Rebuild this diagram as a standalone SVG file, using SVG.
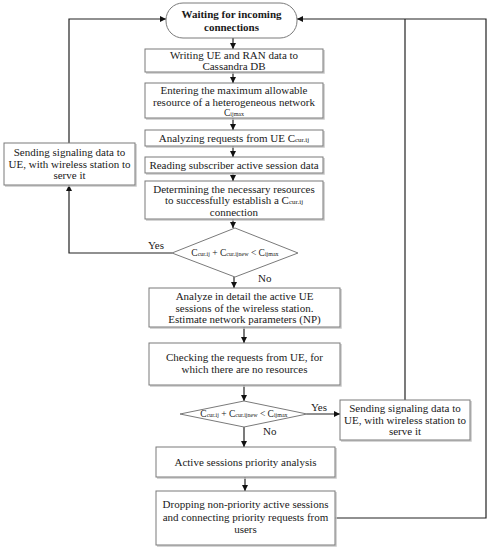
<svg xmlns="http://www.w3.org/2000/svg" width="491" height="550" viewBox="0 0 491 550">
<style>
  .box { fill: #fff; stroke: #7a7a7a; stroke-width: 1; }
  .sh { fill: none; stroke: #c8c8c8; stroke-width: 1.5; }
  .t { font-family: "Liberation Serif", "Times New Roman", serif; font-size: 11px; fill: #1a1a1a; text-anchor: middle; }
  .b { font-weight: bold; }
  .s { font-size: 7px; }
  .d { font-size: 9.5px; }
  .ds { font-size: 6px; }
  .ln { fill: none; stroke: #222; stroke-width: 1.2; }
  .lab { font-family: "Liberation Serif", "Times New Roman", serif; font-size: 11px; fill: #1a1a1a; }
</style>
<defs>
  <marker id="ar" viewBox="0 0 10 10" refX="10" refY="5" markerWidth="6" markerHeight="6" orient="auto" markerUnits="userSpaceOnUse">
    <path d="M0,0 L10,5 L0,10 z" fill="#111"/>
  </marker>
</defs>
<rect width="491" height="550" fill="#fff"/>

<g id="connectors">
  <line class="ln" x1="233" y1="38" x2="233" y2="49" marker-end="url(#ar)"/>
  <line class="ln" x1="233" y1="72" x2="233" y2="83" marker-end="url(#ar)"/>
  <line class="ln" x1="233" y1="118" x2="233" y2="130" marker-end="url(#ar)"/>
  <line class="ln" x1="233" y1="146" x2="233" y2="157" marker-end="url(#ar)"/>
  <line class="ln" x1="233" y1="173" x2="233" y2="181" marker-end="url(#ar)"/>
  <line class="ln" x1="233" y1="219" x2="233" y2="228" marker-end="url(#ar)"/>
  <line class="ln" x1="234" y1="277" x2="234" y2="288" marker-end="url(#ar)"/>
  <polyline class="ln" points="172,253 69,253 69,185" marker-end="url(#ar)"/>
  <polyline class="ln" points="69,143 69,19 166,19" marker-end="url(#ar)"/>
  <line class="ln" x1="244" y1="327" x2="244" y2="343" marker-end="url(#ar)"/>
  <line class="ln" x1="244" y1="385" x2="244" y2="401" marker-end="url(#ar)"/>
  <line class="ln" x1="244" y1="427" x2="244" y2="447" marker-end="url(#ar)"/>
  <line class="ln" x1="307" y1="414" x2="340" y2="414" marker-end="url(#ar)"/>
  <line class="ln" x1="405" y1="400" x2="405" y2="19"/>
  <line class="ln" x1="245" y1="477" x2="245" y2="491" marker-end="url(#ar)"/>
  <polyline class="ln" points="335,518 486,518 486,19 297,19" marker-end="url(#ar)"/>
  <text class="lab" x="148" y="249">Yes</text>
  <text class="lab" x="258" y="282">No</text>
  <text class="lab" x="311" y="411">Yes</text>
  <text class="lab" x="263" y="435">No</text>
</g>

<g id="start">
  <rect class="box" x="166" y="3" width="131" height="35" rx="17" ry="17"/>
  <text class="t b" x="231.5" y="18">Waiting for incoming</text>
  <text class="t b" x="231.5" y="31">connections</text>
</g>

<g id="write">
  <polyline class="sh" points="324,50 324,73 146,73"/>
  <rect class="box" x="145" y="49" width="178" height="23"/>
  <text class="t" x="234" y="59">Writing UE and RAN data to</text>
  <text class="t" x="234" y="70">Cassandra DB</text>
</g>

<g id="enter">
  <polyline class="sh" points="324,84 324,119 146,119"/>
  <rect class="box" x="145" y="83" width="178" height="35"/>
  <text class="t" x="234" y="94">Entering the maximum allowable</text>
  <text class="t" x="234" y="105.5">resource of a heterogeneous network</text>
  <text class="t d" x="234" y="116">C<tspan class="ds">ijmax</tspan></text>
</g>

<g id="analyzing">
  <polyline class="sh" points="324,131 324,147 146,147"/>
  <rect class="box" x="145" y="130" width="178" height="16"/>
  <text class="t" x="234" y="142">Analyzing requests from  UE C<tspan class="s">cur.ij</tspan></text>
</g>

<g id="reading">
  <polyline class="sh" points="324,158 324,174 146,174"/>
  <rect class="box" x="145" y="157" width="178" height="16"/>
  <text class="t" x="234" y="169">Reading subscriber active session data</text>
</g>

<g id="determining">
  <polyline class="sh" points="324,182 324,220 146,220"/>
  <rect class="box" x="145" y="181" width="178" height="38"/>
  <text class="t" x="234" y="192.5">Determining the necessary resources</text>
  <text class="t" x="234" y="204">to successfully establish a C<tspan class="s">cur.ij</tspan></text>
  <text class="t" x="234" y="215.5">connection</text>
</g>

<g id="decision1">
  <polygon class="box" points="235,228 298,253 235,277 172,253"/>
  <text class="t d" x="235" y="256">C<tspan class="ds">cur.ij</tspan> + C<tspan class="ds">cur.ijnew</tspan> &lt; C<tspan class="ds">ijmax</tspan></text>
</g>

<g id="send-left">
  <polyline class="sh" points="136,144 136,186 5,186"/>
  <rect class="box" x="4" y="143" width="131" height="42"/>
  <text class="t" x="69.5" y="156">Sending signaling data to</text>
  <text class="t" x="69.5" y="167.5">UE, with wireless station to</text>
  <text class="t" x="69.5" y="179">serve it</text>
</g>

<g id="analyze-detail">
  <polyline class="sh" points="341,289 341,328 150,328"/>
  <rect class="box" x="149" y="288" width="191" height="39"/>
  <text class="t" x="244.5" y="300">Analyze in detail the active UE</text>
  <text class="t" x="244.5" y="311.5">sessions of the wireless station.</text>
  <text class="t" x="244.5" y="323">Estimate network parameters (NP)</text>
</g>

<g id="checking">
  <polyline class="sh" points="341,344 341,386 150,386"/>
  <rect class="box" x="149" y="343" width="191" height="42"/>
  <text class="t" x="244.5" y="361">Checking the requests from UE, for</text>
  <text class="t" x="244.5" y="373">which there are no resources</text>
</g>

<g id="decision2">
  <polygon class="box" points="244,401 307,414 244,427 180,414"/>
  <text class="t d" x="244" y="417">C<tspan class="ds">cur.ij</tspan> + C<tspan class="ds">cur.ijnew</tspan> &lt; C<tspan class="ds">ijmax</tspan></text>
</g>

<g id="send-right">
  <polyline class="sh" points="471,401 471,441 341,441"/>
  <rect class="box" x="340" y="400" width="130" height="40"/>
  <text class="t" x="405" y="412">Sending signaling data to</text>
  <text class="t" x="405" y="423.5">UE, with wireless station to</text>
  <text class="t" x="405" y="435">serve it</text>
</g>

<g id="priority">
  <polyline class="sh" points="336,448 336,478 157,478"/>
  <rect class="box" x="156" y="447" width="179" height="30"/>
  <text class="t" x="245.5" y="466">Active sessions priority analysis</text>
</g>

<g id="dropping">
  <polyline class="sh" points="336,492 336,546 157,546"/>
  <rect class="box" x="156" y="491" width="179" height="54"/>
  <text class="t" x="245.5" y="508">Dropping non-priority active sessions</text>
  <text class="t" x="245.5" y="520.5">and connecting priority requests from</text>
  <text class="t" x="245.5" y="533">users</text>
</g>
</svg>
